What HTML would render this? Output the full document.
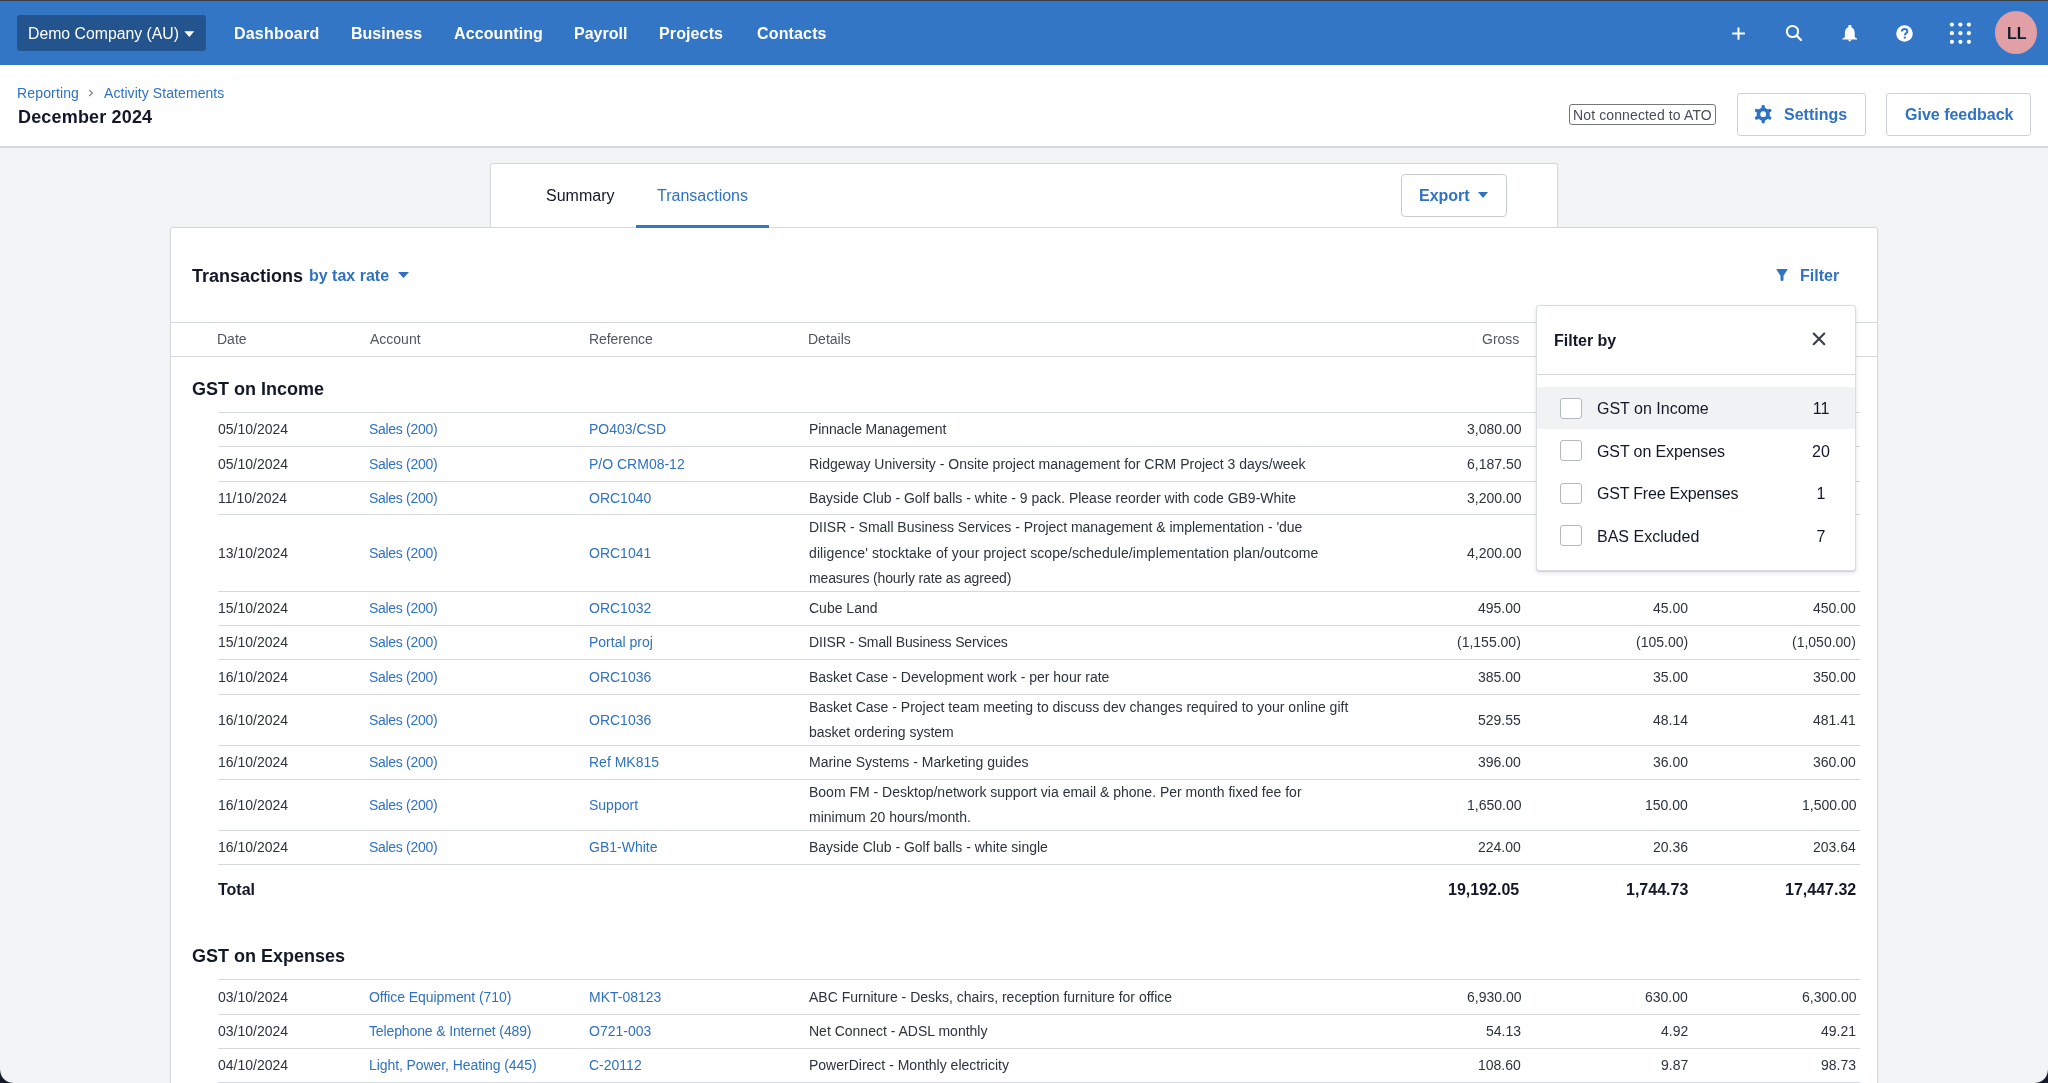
<!DOCTYPE html>
<html><head><meta charset="utf-8"><title>Activity Statement - Transactions</title>
<style>
html,body{margin:0;padding:0}
body{width:2048px;height:1083px;overflow:hidden;position:relative;background:#f2f3f5;font-family:"Liberation Sans", sans-serif;-webkit-font-smoothing:antialiased}
.t{position:absolute;white-space:nowrap;line-height:1;will-change:transform}
.r{position:absolute}
</style></head><body>
<div class="r" style="left:0px;top:0px;width:2048px;height:65px;background:#3376c6"></div>
<div class="r" style="left:0px;top:0px;width:2048px;height:1px;background:#3b3f46"></div>
<div class="r" style="left:17px;top:15px;width:189px;height:36px;background:#24548d;border-radius:3px"></div>
<div class="t" style="left:28px;top:26.00px;font-size:15.8px;font-weight:400;color:#ffffff;">Demo Company (AU)</div>
<svg class="r" style="left:183.7px;top:31px" width="11" height="7" viewBox="0 0 11 7"><path d="M0.3 0.3h10L5.3 6.1z" fill="#fff"/></svg>
<div class="t" style="left:234.2px;top:26.00px;font-size:16px;font-weight:700;color:#ffffff;letter-spacing:0.2px;">Dashboard</div>
<div class="t" style="left:350.6px;top:26.00px;font-size:16px;font-weight:700;color:#ffffff;letter-spacing:0px;">Business</div>
<div class="t" style="left:453.8px;top:26.00px;font-size:16px;font-weight:700;color:#ffffff;letter-spacing:0.1px;">Accounting</div>
<div class="t" style="left:574px;top:26.00px;font-size:16px;font-weight:700;color:#ffffff;letter-spacing:0px;">Payroll</div>
<div class="t" style="left:659.2px;top:26.00px;font-size:16px;font-weight:700;color:#ffffff;letter-spacing:0.12px;">Projects</div>
<div class="t" style="left:756.6px;top:26.00px;font-size:16px;font-weight:700;color:#ffffff;letter-spacing:0.15px;">Contacts</div>
<svg class="r" style="left:1732px;top:26.5px" width="13" height="13" viewBox="0 0 13 13"><path d="M6.5 0.4v12.4M0.2 6.5h12.7" stroke="#fff" stroke-width="2"/></svg>
<svg class="r" style="left:1785px;top:24px" width="18" height="18" viewBox="0 0 18 18"><circle cx="7.5" cy="7.5" r="5.6" fill="none" stroke="#fff" stroke-width="2"/><path d="M11.6 11.6l4.4 4.4" stroke="#fff" stroke-width="2.2" stroke-linecap="round"/></svg>
<svg class="r" style="left:1842px;top:25px" width="16" height="18" viewBox="0 0 16 18"><path d="M6.4 2.4V1.2a1.5 1.5 0 0 1 3 0V2.4z" fill="#fff"/><path d="M7.9 1.9C4.7 1.9 2.9 4.5 2.9 7.9V11.4C2.9 12.3 1.9 12.9 0.5 13.4V14.4H15.1V13.4C13.7 12.9 12.7 12.3 12.7 11.4V7.9C12.7 4.5 10.9 1.9 7.7 1.9z" fill="#fff"/><path d="M5.6 14.6H9.9L7.75 16.8z" fill="#fff"/></svg>
<svg class="r" style="left:1896px;top:25px" width="17" height="17" viewBox="0 0 17 17"><circle cx="8.5" cy="8.5" r="8.3" fill="#fff"/><path d="M5.9 6.6c0-1.5 1.1-2.5 2.7-2.5s2.7 1 2.7 2.3c0 1.9-2.4 2-2.4 3.6v0.3" fill="none" stroke="#3376c6" stroke-width="2"/><circle cx="8.8" cy="12.7" r="1.15" fill="#3376c6"/></svg>
<svg class="r" style="left:1949px;top:22px" width="23" height="23" viewBox="0 0 23 23"><circle cx="2.90" cy="2.60" r="2.1" fill="#fff"/><circle cx="2.90" cy="11.20" r="2.1" fill="#fff"/><circle cx="2.90" cy="19.80" r="2.1" fill="#fff"/><circle cx="11.40" cy="2.60" r="2.1" fill="#fff"/><circle cx="11.40" cy="11.20" r="2.1" fill="#fff"/><circle cx="11.40" cy="19.80" r="2.1" fill="#fff"/><circle cx="19.90" cy="2.60" r="2.1" fill="#fff"/><circle cx="19.90" cy="11.20" r="2.1" fill="#fff"/><circle cx="19.90" cy="19.80" r="2.1" fill="#fff"/></svg>
<div class="r" style="left:1994.6px;top:11.4px;width:42.8px;height:42.8px;background:#e0a0a6;border-radius:50%"></div>
<div class="t" style="left:2006.6px;top:26.00px;font-size:16px;font-weight:700;color:#141a28;">LL</div>
<div class="r" style="left:0px;top:65px;width:2048px;height:81px;background:#ffffff"></div>
<div class="r" style="left:0px;top:146px;width:2048px;height:2px;background:#d7d9dd"></div>
<div class="t" style="left:16.8px;top:86.00px;font-size:14px;font-weight:400;color:#2f72c3;letter-spacing:0.15px;">Reporting</div>
<svg class="r" style="left:88px;top:89px" width="6" height="8" viewBox="0 0 6 8"><path d="M1.2 1l3.2 3-3.2 3" fill="none" stroke="#80858c" stroke-width="1.2"/></svg>
<div class="t" style="left:103.5px;top:86.00px;font-size:14px;font-weight:400;color:#2f72c3;letter-spacing:0.07px;">Activity Statements</div>
<div class="t" style="left:17.5px;top:108.00px;font-size:18px;font-weight:700;color:#121829;letter-spacing:0.17px;">December 2024</div>
<div class="r" style="left:1569px;top:104px;width:147px;height:21px;box-sizing:border-box;border:1px solid #737880;border-radius:3px;background:#fff"></div>
<div class="t" style="left:1572.8px;top:108.00px;font-size:14px;font-weight:400;color:#474d56;letter-spacing:0.12px;">Not connected to ATO</div>
<div class="r" style="left:1737px;top:93px;width:129px;height:43px;box-sizing:border-box;border:1px solid #cdd1d6;border-radius:3px;background:#fff"></div>
<svg class="r" style="left:1755px;top:105px" width="17" height="19" viewBox="0 0 17 19"><g fill="#2f72c3"><polygon points="8.20,2.40 2.31,5.80 2.31,12.60 8.20,16.00 14.09,12.60 14.09,5.80" stroke="#2f72c3" stroke-width="1.2" stroke-linejoin="round"/><circle cx="8.20" cy="1.70" r="1.75"/><circle cx="1.70" cy="5.45" r="1.75"/><circle cx="1.70" cy="12.95" r="1.75"/><circle cx="8.20" cy="16.70" r="1.75"/><circle cx="14.70" cy="12.95" r="1.75"/><circle cx="14.70" cy="5.45" r="1.75"/></g><circle cx="8.2" cy="9.2" r="2.9" fill="#fff"/></svg>
<div class="t" style="left:1784.2px;top:107.00px;font-size:16px;font-weight:700;color:#2f72c3;">Settings</div>
<div class="r" style="left:1886px;top:93px;width:145px;height:43px;box-sizing:border-box;border:1px solid #cdd1d6;border-radius:3px;background:#fff"></div>
<div class="t" style="left:1904.5px;top:107.00px;font-size:16px;font-weight:700;color:#2f72c3;">Give feedback</div>
<div class="r" style="left:490px;top:163px;width:1068px;height:65px;box-sizing:border-box;border:1px solid #d5d8dc;border-bottom:none;border-radius:3px 3px 0 0;background:#fff"></div>
<div class="t" style="left:546px;top:188.00px;font-size:16px;font-weight:400;color:#121829;">Summary</div>
<div class="t" style="left:657px;top:188.00px;font-size:16px;font-weight:400;color:#2f72c3;">Transactions</div>
<div class="r" style="left:636px;top:225px;width:133px;height:3px;background:#3376c6;z-index:2"></div>
<div class="r" style="left:1401px;top:174px;width:106px;height:43px;box-sizing:border-box;border:1px solid #c9cdd2;border-radius:4px;background:#fff"></div>
<div class="t" style="left:1418.6px;top:188.00px;font-size:16px;font-weight:700;color:#2f72c3;">Export</div>
<svg class="r" style="left:1478px;top:192px" width="10" height="6" viewBox="0 0 10 6"><path d="M0 0h10L5 6z" fill="#2f72c3"/></svg>
<div class="r" style="left:170px;top:227px;width:1708px;height:900px;box-sizing:border-box;border:1px solid #d5d8dc;border-radius:3px;background:#fff"></div>
<div class="t" style="left:192.3px;top:267.00px;font-size:18px;font-weight:700;color:#121829;">Transactions</div>
<div class="t" style="left:309.2px;top:268.00px;font-size:16px;font-weight:700;color:#2f72c3;">by tax rate</div>
<svg class="r" style="left:398px;top:272px" width="11" height="6" viewBox="0 0 11 6"><path d="M0 0h11L5.5 6z" fill="#2f72c3"/></svg>
<svg class="r" style="left:1776px;top:268px" width="12" height="14" viewBox="0 0 12 14"><path d="M1.3 0.9H10.7Q11.9 0.9 11.3 2.1Q9.3 5 7.5 7.7V11.7Q7.5 12.9 6 12.9Q4.5 12.9 4.5 11.7V7.7Q2.7 5 0.7 2.1Q0.1 0.9 1.3 0.9z" fill="#2f72c3"/></svg>
<div class="t" style="left:1799.8px;top:268.00px;font-size:16px;font-weight:700;color:#2f72c3;">Filter</div>
<div class="r" style="left:171px;top:322px;width:1706px;height:1px;background:#d5d8dc"></div>
<div class="r" style="left:171px;top:356px;width:1706px;height:1px;background:#d5d8dc"></div>
<div class="t" style="left:217.4px;top:332.00px;font-size:14px;font-weight:400;color:#4f5761;">Date</div>
<div class="t" style="left:370px;top:332.00px;font-size:14px;font-weight:400;color:#4f5761;">Account</div>
<div class="t" style="left:588.8px;top:332.00px;font-size:14px;font-weight:400;color:#4f5761;letter-spacing:-0.1px;">Reference</div>
<div class="t" style="left:808.4px;top:332.00px;font-size:14px;font-weight:400;color:#4f5761;">Details</div>
<div class="t" style="right:528.4000000000001px;top:332.00px;font-size:14px;font-weight:400;color:#4f5761;text-align:right;">Gross</div>
<div class="t" style="right:360px;top:332.00px;font-size:14px;font-weight:400;color:#4f5761;text-align:right;">GST</div>
<div class="t" style="right:192px;top:332.00px;font-size:14px;font-weight:400;color:#4f5761;text-align:right;">Net</div>
<div class="t" style="left:192.2px;top:380.00px;font-size:18px;font-weight:700;color:#121829;">GST on Income</div>
<div class="r" style="left:218px;top:412px;width:1642px;height:1px;background:#d5d8dc"></div>
<div class="t" style="left:218px;top:422.00px;font-size:14px;font-weight:400;color:#2c333d;">05/10/2024</div>
<div class="t" style="left:368.5px;top:422.00px;font-size:14px;font-weight:400;color:#2f72c3;letter-spacing:-0.3px;">Sales (200)</div>
<div class="t" style="left:588.5px;top:422.00px;font-size:14px;font-weight:400;color:#2f72c3;">PO403/CSD</div>
<div class="t" style="left:809px;top:422.00px;font-size:14px;font-weight:400;color:#2c333d;letter-spacing:-0.11px;">Pinnacle Management</div>
<div class="t" style="right:527px;top:422.00px;font-size:14px;font-weight:400;color:#2c333d;text-align:right;">3,080.00</div>
<div class="t" style="right:360px;top:422.00px;font-size:14px;font-weight:400;color:#2c333d;text-align:right;">280.00</div>
<div class="t" style="right:192px;top:422.00px;font-size:14px;font-weight:400;color:#2c333d;text-align:right;">2,800.00</div>
<div class="r" style="left:218px;top:446px;width:1642px;height:1px;background:#d5d8dc"></div>
<div class="t" style="left:218px;top:457.00px;font-size:14px;font-weight:400;color:#2c333d;">05/10/2024</div>
<div class="t" style="left:368.5px;top:457.00px;font-size:14px;font-weight:400;color:#2f72c3;letter-spacing:-0.3px;">Sales (200)</div>
<div class="t" style="left:588.5px;top:457.00px;font-size:14px;font-weight:400;color:#2f72c3;">P/O CRM08-12</div>
<div class="t" style="left:809px;top:457.00px;font-size:14px;font-weight:400;color:#2c333d;">Ridgeway University - Onsite project management for CRM Project 3 days/week</div>
<div class="t" style="right:527px;top:457.00px;font-size:14px;font-weight:400;color:#2c333d;text-align:right;">6,187.50</div>
<div class="t" style="right:360px;top:457.00px;font-size:14px;font-weight:400;color:#2c333d;text-align:right;">562.50</div>
<div class="t" style="right:192px;top:457.00px;font-size:14px;font-weight:400;color:#2c333d;text-align:right;">5,625.00</div>
<div class="r" style="left:218px;top:481px;width:1642px;height:1px;background:#d5d8dc"></div>
<div class="t" style="left:218px;top:491.00px;font-size:14px;font-weight:400;color:#2c333d;">11/10/2024</div>
<div class="t" style="left:368.5px;top:491.00px;font-size:14px;font-weight:400;color:#2f72c3;letter-spacing:-0.3px;">Sales (200)</div>
<div class="t" style="left:588.5px;top:491.00px;font-size:14px;font-weight:400;color:#2f72c3;">ORC1040</div>
<div class="t" style="left:809px;top:491.00px;font-size:14px;font-weight:400;color:#2c333d;">Bayside Club - Golf balls - white - 9 pack. Please reorder with code GB9-White</div>
<div class="t" style="right:527px;top:491.00px;font-size:14px;font-weight:400;color:#2c333d;text-align:right;">3,200.00</div>
<div class="t" style="right:360px;top:491.00px;font-size:14px;font-weight:400;color:#2c333d;text-align:right;">290.91</div>
<div class="t" style="right:192px;top:491.00px;font-size:14px;font-weight:400;color:#2c333d;text-align:right;">2,909.09</div>
<div class="r" style="left:218px;top:514px;width:1642px;height:1px;background:#d5d8dc"></div>
<div class="t" style="left:218px;top:546.00px;font-size:14px;font-weight:400;color:#2c333d;">13/10/2024</div>
<div class="t" style="left:368.5px;top:546.00px;font-size:14px;font-weight:400;color:#2f72c3;letter-spacing:-0.3px;">Sales (200)</div>
<div class="t" style="left:588.5px;top:546.00px;font-size:14px;font-weight:400;color:#2f72c3;">ORC1041</div>
<div class="t" style="left:809px;top:520.00px;font-size:14px;font-weight:400;color:#2c333d;letter-spacing:-0.024px;">DIISR - Small Business Services - Project management &amp; implementation - 'due</div>
<div class="t" style="left:809px;top:546.00px;font-size:14px;font-weight:400;color:#2c333d;letter-spacing:0.1px;">diligence' stocktake of your project scope/schedule/implementation plan/outcome</div>
<div class="t" style="left:809px;top:571.00px;font-size:14px;font-weight:400;color:#2c333d;letter-spacing:-0.15px;">measures (hourly rate as agreed)</div>
<div class="t" style="right:527px;top:546.00px;font-size:14px;font-weight:400;color:#2c333d;text-align:right;">4,200.00</div>
<div class="t" style="right:360px;top:546.00px;font-size:14px;font-weight:400;color:#2c333d;text-align:right;">381.82</div>
<div class="t" style="right:192px;top:546.00px;font-size:14px;font-weight:400;color:#2c333d;text-align:right;">3,818.18</div>
<div class="r" style="left:218px;top:591px;width:1642px;height:1px;background:#d5d8dc"></div>
<div class="t" style="left:218px;top:601.00px;font-size:14px;font-weight:400;color:#2c333d;">15/10/2024</div>
<div class="t" style="left:368.5px;top:601.00px;font-size:14px;font-weight:400;color:#2f72c3;letter-spacing:-0.3px;">Sales (200)</div>
<div class="t" style="left:588.5px;top:601.00px;font-size:14px;font-weight:400;color:#2f72c3;">ORC1032</div>
<div class="t" style="left:809px;top:601.00px;font-size:14px;font-weight:400;color:#2c333d;">Cube Land</div>
<div class="t" style="right:527px;top:601.00px;font-size:14px;font-weight:400;color:#2c333d;text-align:right;">495.00</div>
<div class="t" style="right:360px;top:601.00px;font-size:14px;font-weight:400;color:#2c333d;text-align:right;">45.00</div>
<div class="t" style="right:192px;top:601.00px;font-size:14px;font-weight:400;color:#2c333d;text-align:right;">450.00</div>
<div class="r" style="left:218px;top:625px;width:1642px;height:1px;background:#d5d8dc"></div>
<div class="t" style="left:218px;top:635.00px;font-size:14px;font-weight:400;color:#2c333d;">15/10/2024</div>
<div class="t" style="left:368.5px;top:635.00px;font-size:14px;font-weight:400;color:#2f72c3;letter-spacing:-0.3px;">Sales (200)</div>
<div class="t" style="left:588.5px;top:635.00px;font-size:14px;font-weight:400;color:#2f72c3;">Portal proj</div>
<div class="t" style="left:809px;top:635.00px;font-size:14px;font-weight:400;color:#2c333d;letter-spacing:-0.14px;">DIISR - Small Business Services</div>
<div class="t" style="right:527px;top:635.00px;font-size:14px;font-weight:400;color:#2c333d;text-align:right;">(1,155.00)</div>
<div class="t" style="right:360px;top:635.00px;font-size:14px;font-weight:400;color:#2c333d;text-align:right;">(105.00)</div>
<div class="t" style="right:192px;top:635.00px;font-size:14px;font-weight:400;color:#2c333d;text-align:right;">(1,050.00)</div>
<div class="r" style="left:218px;top:659px;width:1642px;height:1px;background:#d5d8dc"></div>
<div class="t" style="left:218px;top:670.00px;font-size:14px;font-weight:400;color:#2c333d;">16/10/2024</div>
<div class="t" style="left:368.5px;top:670.00px;font-size:14px;font-weight:400;color:#2f72c3;letter-spacing:-0.3px;">Sales (200)</div>
<div class="t" style="left:588.5px;top:670.00px;font-size:14px;font-weight:400;color:#2f72c3;">ORC1036</div>
<div class="t" style="left:809px;top:670.00px;font-size:14px;font-weight:400;color:#2c333d;">Basket Case - Development work - per hour rate</div>
<div class="t" style="right:527px;top:670.00px;font-size:14px;font-weight:400;color:#2c333d;text-align:right;">385.00</div>
<div class="t" style="right:360px;top:670.00px;font-size:14px;font-weight:400;color:#2c333d;text-align:right;">35.00</div>
<div class="t" style="right:192px;top:670.00px;font-size:14px;font-weight:400;color:#2c333d;text-align:right;">350.00</div>
<div class="r" style="left:218px;top:694px;width:1642px;height:1px;background:#d5d8dc"></div>
<div class="t" style="left:218px;top:713.00px;font-size:14px;font-weight:400;color:#2c333d;">16/10/2024</div>
<div class="t" style="left:368.5px;top:713.00px;font-size:14px;font-weight:400;color:#2f72c3;letter-spacing:-0.3px;">Sales (200)</div>
<div class="t" style="left:588.5px;top:713.00px;font-size:14px;font-weight:400;color:#2f72c3;">ORC1036</div>
<div class="t" style="left:809px;top:700.00px;font-size:14px;font-weight:400;color:#2c333d;">Basket Case - Project team meeting to discuss dev changes required to your online gift</div>
<div class="t" style="left:809px;top:725.00px;font-size:14px;font-weight:400;color:#2c333d;">basket ordering system</div>
<div class="t" style="right:527px;top:713.00px;font-size:14px;font-weight:400;color:#2c333d;text-align:right;">529.55</div>
<div class="t" style="right:360px;top:713.00px;font-size:14px;font-weight:400;color:#2c333d;text-align:right;">48.14</div>
<div class="t" style="right:192px;top:713.00px;font-size:14px;font-weight:400;color:#2c333d;text-align:right;">481.41</div>
<div class="r" style="left:218px;top:745px;width:1642px;height:1px;background:#d5d8dc"></div>
<div class="t" style="left:218px;top:755.00px;font-size:14px;font-weight:400;color:#2c333d;">16/10/2024</div>
<div class="t" style="left:368.5px;top:755.00px;font-size:14px;font-weight:400;color:#2f72c3;letter-spacing:-0.3px;">Sales (200)</div>
<div class="t" style="left:588.5px;top:755.00px;font-size:14px;font-weight:400;color:#2f72c3;">Ref MK815</div>
<div class="t" style="left:809px;top:755.00px;font-size:14px;font-weight:400;color:#2c333d;">Marine Systems - Marketing guides</div>
<div class="t" style="right:527px;top:755.00px;font-size:14px;font-weight:400;color:#2c333d;text-align:right;">396.00</div>
<div class="t" style="right:360px;top:755.00px;font-size:14px;font-weight:400;color:#2c333d;text-align:right;">36.00</div>
<div class="t" style="right:192px;top:755.00px;font-size:14px;font-weight:400;color:#2c333d;text-align:right;">360.00</div>
<div class="r" style="left:218px;top:779px;width:1642px;height:1px;background:#d5d8dc"></div>
<div class="t" style="left:218px;top:798.00px;font-size:14px;font-weight:400;color:#2c333d;">16/10/2024</div>
<div class="t" style="left:368.5px;top:798.00px;font-size:14px;font-weight:400;color:#2f72c3;letter-spacing:-0.3px;">Sales (200)</div>
<div class="t" style="left:588.5px;top:798.00px;font-size:14px;font-weight:400;color:#2f72c3;">Support</div>
<div class="t" style="left:809px;top:785.00px;font-size:14px;font-weight:400;color:#2c333d;">Boom FM - Desktop/network support via email &amp; phone. Per month fixed fee for</div>
<div class="t" style="left:809px;top:810.00px;font-size:14px;font-weight:400;color:#2c333d;">minimum 20 hours/month.</div>
<div class="t" style="right:527px;top:798.00px;font-size:14px;font-weight:400;color:#2c333d;text-align:right;">1,650.00</div>
<div class="t" style="right:360px;top:798.00px;font-size:14px;font-weight:400;color:#2c333d;text-align:right;">150.00</div>
<div class="t" style="right:192px;top:798.00px;font-size:14px;font-weight:400;color:#2c333d;text-align:right;">1,500.00</div>
<div class="r" style="left:218px;top:830px;width:1642px;height:1px;background:#d5d8dc"></div>
<div class="t" style="left:218px;top:840.00px;font-size:14px;font-weight:400;color:#2c333d;">16/10/2024</div>
<div class="t" style="left:368.5px;top:840.00px;font-size:14px;font-weight:400;color:#2f72c3;letter-spacing:-0.3px;">Sales (200)</div>
<div class="t" style="left:588.5px;top:840.00px;font-size:14px;font-weight:400;color:#2f72c3;">GB1-White</div>
<div class="t" style="left:809px;top:840.00px;font-size:14px;font-weight:400;color:#2c333d;">Bayside Club - Golf balls - white single</div>
<div class="t" style="right:527px;top:840.00px;font-size:14px;font-weight:400;color:#2c333d;text-align:right;">224.00</div>
<div class="t" style="right:360px;top:840.00px;font-size:14px;font-weight:400;color:#2c333d;text-align:right;">20.36</div>
<div class="t" style="right:192px;top:840.00px;font-size:14px;font-weight:400;color:#2c333d;text-align:right;">203.64</div>
<div class="r" style="left:218px;top:864px;width:1642px;height:1px;background:#d5d8dc"></div>
<div class="t" style="left:218px;top:882.00px;font-size:16px;font-weight:700;color:#121829;">Total</div>
<div class="t" style="right:528.4000000000001px;top:882.00px;font-size:16px;font-weight:700;color:#121829;text-align:right;">19,192.05</div>
<div class="t" style="right:360px;top:882.00px;font-size:16px;font-weight:700;color:#121829;text-align:right;">1,744.73</div>
<div class="t" style="right:192px;top:882.00px;font-size:16px;font-weight:700;color:#121829;text-align:right;">17,447.32</div>
<div class="t" style="left:192.2px;top:947.00px;font-size:18px;font-weight:700;color:#121829;">GST on Expenses</div>
<div class="r" style="left:218px;top:979px;width:1642px;height:1px;background:#d5d8dc"></div>
<div class="t" style="left:218px;top:990.00px;font-size:14px;font-weight:400;color:#2c333d;">03/10/2024</div>
<div class="t" style="left:368.5px;top:990.00px;font-size:14px;font-weight:400;color:#2f72c3;letter-spacing:-0.06px;">Office Equipment (710)</div>
<div class="t" style="left:588.5px;top:990.00px;font-size:14px;font-weight:400;color:#2f72c3;">MKT-08123</div>
<div class="t" style="left:809px;top:990.00px;font-size:14px;font-weight:400;color:#2c333d;">ABC Furniture - Desks, chairs, reception furniture for office</div>
<div class="t" style="right:527px;top:990.00px;font-size:14px;font-weight:400;color:#2c333d;text-align:right;">6,930.00</div>
<div class="t" style="right:360px;top:990.00px;font-size:14px;font-weight:400;color:#2c333d;text-align:right;">630.00</div>
<div class="t" style="right:192px;top:990.00px;font-size:14px;font-weight:400;color:#2c333d;text-align:right;">6,300.00</div>
<div class="r" style="left:218px;top:1014px;width:1642px;height:1px;background:#d5d8dc"></div>
<div class="t" style="left:218px;top:1024.00px;font-size:14px;font-weight:400;color:#2c333d;">03/10/2024</div>
<div class="t" style="left:368.5px;top:1024.00px;font-size:14px;font-weight:400;color:#2f72c3;letter-spacing:-0.13px;">Telephone &amp; Internet (489)</div>
<div class="t" style="left:588.5px;top:1024.00px;font-size:14px;font-weight:400;color:#2f72c3;">O721-003</div>
<div class="t" style="left:809px;top:1024.00px;font-size:14px;font-weight:400;color:#2c333d;">Net Connect - ADSL monthly</div>
<div class="t" style="right:527px;top:1024.00px;font-size:14px;font-weight:400;color:#2c333d;text-align:right;">54.13</div>
<div class="t" style="right:360px;top:1024.00px;font-size:14px;font-weight:400;color:#2c333d;text-align:right;">4.92</div>
<div class="t" style="right:192px;top:1024.00px;font-size:14px;font-weight:400;color:#2c333d;text-align:right;">49.21</div>
<div class="r" style="left:218px;top:1048px;width:1642px;height:1px;background:#d5d8dc"></div>
<div class="t" style="left:218px;top:1058.00px;font-size:14px;font-weight:400;color:#2c333d;">04/10/2024</div>
<div class="t" style="left:368.5px;top:1058.00px;font-size:14px;font-weight:400;color:#2f72c3;letter-spacing:-0.08px;">Light, Power, Heating (445)</div>
<div class="t" style="left:588.5px;top:1058.00px;font-size:14px;font-weight:400;color:#2f72c3;">C-20112</div>
<div class="t" style="left:809px;top:1058.00px;font-size:14px;font-weight:400;color:#2c333d;">PowerDirect - Monthly electricity</div>
<div class="t" style="right:527px;top:1058.00px;font-size:14px;font-weight:400;color:#2c333d;text-align:right;">108.60</div>
<div class="t" style="right:360px;top:1058.00px;font-size:14px;font-weight:400;color:#2c333d;text-align:right;">9.87</div>
<div class="t" style="right:192px;top:1058.00px;font-size:14px;font-weight:400;color:#2c333d;text-align:right;">98.73</div>
<div class="r" style="left:218px;top:1082px;width:1642px;height:1px;background:#d5d8dc"></div>
<div class="r" style="left:1536px;top:305px;width:320px;height:266px;box-sizing:border-box;border:1px solid #d9dce0;border-radius:3px;background:#fff;box-shadow:0 1px 1px rgba(0,10,30,0.12),0 2px 5px rgba(0,10,30,0.10)"></div>
<div class="t" style="left:1554.3px;top:333.00px;font-size:16px;font-weight:700;color:#121829;">Filter by</div>
<svg class="r" style="left:1812px;top:332px" width="14" height="14" viewBox="0 0 14 14"><path d="M1.7 1.6l10.6 10.6M12.3 1.6l-10.6 10.6" stroke="#363e4c" stroke-width="2.1" stroke-linecap="round"/></svg>
<div class="r" style="left:1537px;top:374px;width:318px;height:1px;background:#d5d8dc"></div>
<div class="r" style="left:1537px;top:387px;width:318px;height:42px;background:#f1f2f4"></div>
<div class="r" style="left:1560px;top:398px;width:22px;height:21px;box-sizing:border-box;border:1px solid #b3b8bf;border-radius:3px;background:#fff"></div>
<div class="t" style="left:1596.8px;top:401.00px;font-size:16px;font-weight:400;color:#121829;">GST on Income</div>
<div class="t" style="left:1801px;width:40px;top:401px;font-size:16px;color:#121829;text-align:center">11</div>
<div class="r" style="left:1560px;top:440px;width:22px;height:21px;box-sizing:border-box;border:1px solid #b3b8bf;border-radius:3px;background:#fff"></div>
<div class="t" style="left:1596.8px;top:444.00px;font-size:16px;font-weight:400;color:#121829;letter-spacing:-0.11px;">GST on Expenses</div>
<div class="t" style="left:1801px;width:40px;top:444px;font-size:16px;color:#121829;text-align:center">20</div>
<div class="r" style="left:1560px;top:483px;width:22px;height:21px;box-sizing:border-box;border:1px solid #b3b8bf;border-radius:3px;background:#fff"></div>
<div class="t" style="left:1596.8px;top:486.00px;font-size:16px;font-weight:400;color:#121829;letter-spacing:-0.2px;">GST Free Expenses</div>
<div class="t" style="left:1801px;width:40px;top:486px;font-size:16px;color:#121829;text-align:center">1</div>
<div class="r" style="left:1560px;top:525px;width:22px;height:21px;box-sizing:border-box;border:1px solid #b3b8bf;border-radius:3px;background:#fff"></div>
<div class="t" style="left:1596.8px;top:529.00px;font-size:16px;font-weight:400;color:#121829;">BAS Excluded</div>
<div class="t" style="left:1801px;width:40px;top:529px;font-size:16px;color:#121829;text-align:center">7</div>
<div class="r" style="left:2035px;top:1070px;width:13px;height:13px;z-index:9;background:radial-gradient(circle at 0 0, rgba(21,26,43,0) 12.3px, #151a2b 13.3px)"></div>
<div class="r" style="left:0px;top:1070px;width:13px;height:13px;z-index:9;background:radial-gradient(circle at 100% 0, rgba(21,26,43,0) 12.3px, #151a2b 13.3px)"></div>
</body></html>
